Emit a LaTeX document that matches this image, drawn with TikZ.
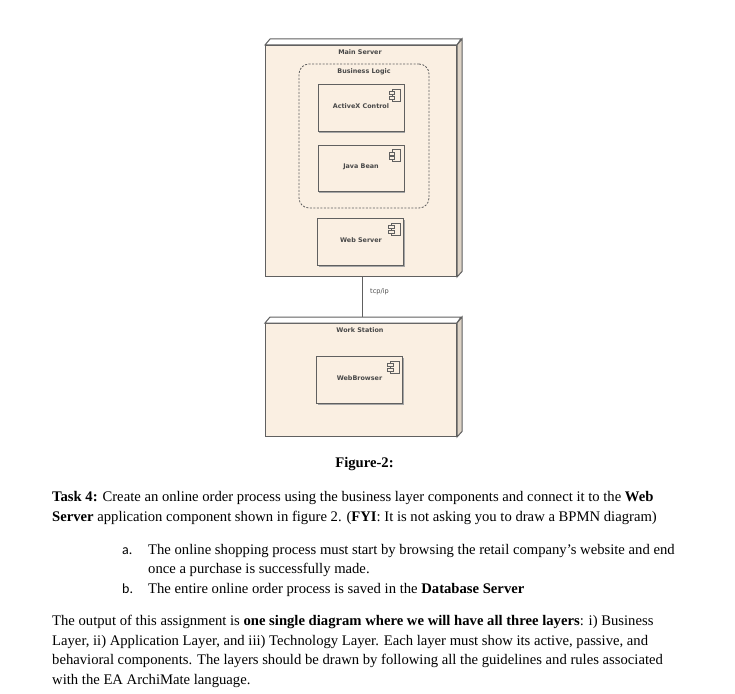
\documentclass[tikz,border=0pt]{standalone}
\usepackage{fontspec}
\setmainfont{Liberation Serif}
\newfontfamily\labelfont{DejaVu Sans}
\newfontfamily\listfont{Carlito}
\usetikzlibrary{positioning,shadows}
\definecolor{nodecream}{HTML}{FAEFE2}
\definecolor{nodeside}{HTML}{DDD3C6}
\definecolor{nodeline}{HTML}{606060}
\definecolor{labelgrey}{HTML}{484848}
% side and top faces of a device
\newcommand{\devicefaces}[1]{
    \draw[nodeline,line width=1pt,fill=white] (#1.north west) -- ++(5,-6) -- ++(191,0) -- (#1.north east) -- cycle;
    \draw[nodeline,line width=1pt,fill=nodeside] (#1.north east) -- ++(5,-6) -- ([shift={(5pt,5.5pt)}]#1.south east) -- (#1.south east) -- cycle;
}
% small component icon, top right of the box
\newcommand{\compicon}[1]{
    \draw[nodeline,line width=.9pt,fill=nodecream] ([shift={(-12.5pt,-5pt)}]#1.north east) rectangle ([shift={(-4pt,-17pt)}]#1.north east);
    \draw[nodeline,line width=.9pt,fill=nodecream] ([shift={(-15.5pt,-7.5pt)}]#1.north east) rectangle ([shift={(-10pt,-10.5pt)}]#1.north east);
    \draw[nodeline,line width=.9pt,fill=nodecream] ([shift={(-15.5pt,-12pt)}]#1.north east) rectangle ([shift={(-10pt,-15pt)}]#1.north east);
}
\begin{document}
\begin{tikzpicture}[
    x=1pt,y=-1pt,
    node distance=13pt,
    device/.style={rectangle,draw=nodeline,line width=1pt,fill=nodecream,minimum width=191pt,anchor=north west,inner sep=0pt},
    comp/.style={rectangle,draw=nodeline,line width=1pt,fill=nodecream,minimum width=86pt,minimum height=46.5pt,inner sep=0pt,drop shadow={shadow xshift=1.2pt,shadow yshift=-1.4pt,fill=black!35,opacity=1}},
    lbl/.style={font=\labelfont\bfseries\fontsize{6.4}{8}\selectfont,text=labelgrey,inner sep=0pt},
    para/.style={font=\fontsize{14.66}{16}\selectfont,anchor=base west,inner sep=0pt}
]
    \useasboundingbox (0,0) rectangle (735,693);

    \node[device,minimum height=231pt] (main) at (265,45) {};
    \devicefaces{main}
    \node[device,minimum height=113pt] (work) at (265,323) {};
    \devicefaces{work}

    \node[draw=nodeline,line width=.8pt,dash pattern=on 2pt off 1.5pt,rounded corners=10pt,minimum width=130pt,minimum height=144pt,inner sep=0pt] (logic) at (364,136) {};
    \node[comp] (activex) at (361,108) {};
    \node[comp,below=13pt of activex] (bean) {};
    \node[comp] (webserver) at (360.5,242) {};
    \node[comp] (browser) at (359.5,380) {};
    \compicon{activex}
    \compicon{bean}
    \compicon{webserver}
    \compicon{browser}

    \node[lbl] (mainlbl) at (360,52) {Main Server};
    \node[lbl] (logiclbl) at (364,71.5) {Business Logic};
    \node[lbl] (activexlbl) at (361,106) {ActiveX Control};
    \node[lbl] (beanlbl) at (361,166.5) {Java Bean};
    \node[lbl] (webserverlbl) at (361,240) {Web Server};
    \node[lbl] (worklbl) at (360,330.5) {Work Station};
    \node[lbl] (browserlbl) at (359.5,378) {WebBrowser};
    \node[lbl,font=\labelfont\fontsize{6.6}{8}\selectfont] (tcplbl) at (379.5,291.5) {tcp/ip};

    \coordinate (worktop) at (362.7,317);
    \draw[nodeline,line width=1pt] (main.south -| worktop) -- (worktop);

    \node[para,anchor=base] (figlbl) at (364.5,467) {\textbf{Figure-2:}};
    \node[para] (task1) at (52,501) {\textbf{Task 4:} Create an online order process using the business layer components and connect it to the \textbf{Web}};
    \node[para] (task2) at (52,521) {\textbf{Server} application component shown in figure 2. (\textbf{FYI}: It is not asking you to draw a BPMN diagram)};
    \node[para,font=\listfont\fontsize{14}{16}\selectfont] (itema) at (122,554) {a.};
    \node[para] (itema1) at (148,554) {The online shopping process must start by browsing the retail company’s website and end};
    \node[para] (itema2) at (148,573) {once a purchase is successfully made.};
    \node[para,font=\listfont\fontsize{14}{16}\selectfont] (itemb) at (122,593) {b.};
    \node[para] (itemb1) at (148,593) {The entire online order process is saved in the \textbf{Database Server}};
    \node[para] (out1) at (52,625) {The output of this assignment is \textbf{one single diagram where we will have all three layers}: i) Business};
    \node[para] (out2) at (52,645) {Layer, ii) Application Layer, and iii) Technology Layer. Each layer must show its active, passive, and};
    \node[para] (out3) at (52,664) {behavioral components. The layers should be drawn by following all the guidelines and rules associated};
    \node[para] (out4) at (52,684) {with the EA ArchiMate language.};
\end{tikzpicture}
\end{document}
